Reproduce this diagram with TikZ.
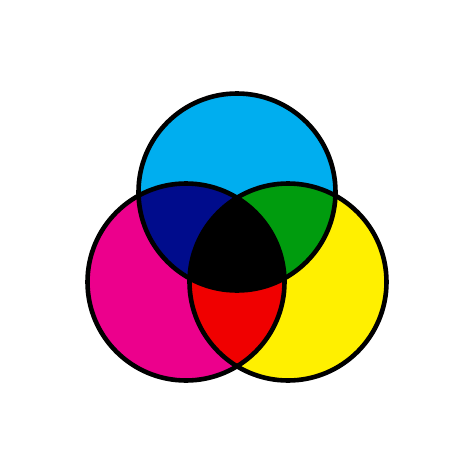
\documentclass[tikz,border=0pt]{standalone}
\usetikzlibrary{calc}
\definecolor{cmyC}{HTML}{00AEEF}
\definecolor{cmyM}{HTML}{EC008C}
\definecolor{cmyY}{HTML}{FFF000}
\definecolor{cmyB}{HTML}{000C8C}
\definecolor{cmyG}{HTML}{009C0E}
\definecolor{cmyR}{HTML}{F00000}
\tikzset{ring/.style={draw=black,line width=0.23cm}}
\begin{document}
\begin{tikzpicture}[x=0.05cm,y=-0.05cm]
\fill[white] (0,0) rectangle (474,474);
\useasboundingbox (0,0) rectangle (474,474);
\def\R{98.5}
\coordinate (c) at (237,192);
\coordinate (m) at (186,282);
\coordinate (y) at (288,282);
\fill[cmyC] (c) circle[radius=\R];
\fill[cmyM] (m) circle[radius=\R];
\fill[cmyY] (y) circle[radius=\R];
\begin{scope}
\clip (c) circle[radius=\R];
\fill[cmyB] (m) circle[radius=\R];
\fill[cmyG] (y) circle[radius=\R];
\end{scope}
\begin{scope}
\clip (m) circle[radius=\R];
\fill[cmyR] (y) circle[radius=\R];
\clip (y) circle[radius=\R];
\fill[black] (c) circle[radius=\R];
\end{scope}
\draw[ring] (c) circle[radius=\R];
\draw[ring] (m) circle[radius=\R];
\draw[ring] (y) circle[radius=\R];
\end{tikzpicture}
\end{document}
